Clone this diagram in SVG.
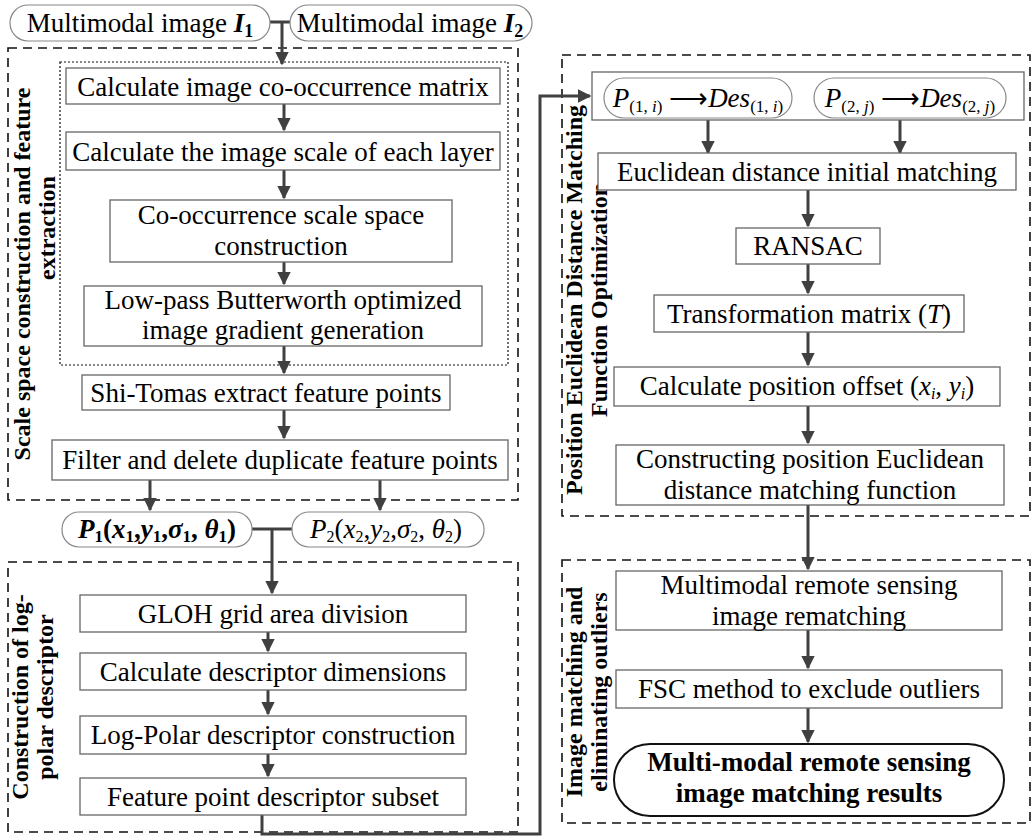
<svg xmlns="http://www.w3.org/2000/svg" width="1035" height="839" viewBox="0 0 1035 839">
<style>
text{font-family:"Liberation Serif","Times New Roman",serif;font-size:27px;fill:#000;text-anchor:middle}
.b{fill:#fff;stroke:#666;stroke-width:1.3}
.p{fill:#fff;stroke:#888;stroke-width:1.2}
.d{fill:none;stroke:#111;stroke-width:1.6;stroke-dasharray:9 6}
.dt{fill:none;stroke:#111;stroke-width:1.2;stroke-dasharray:2 2}
.c{fill:none;stroke:#404040;stroke-width:3}
.a{fill:none;stroke:#404040;stroke-width:3;marker-end:url(#ah)}
.v{font-weight:bold;font-size:24px}
.i{font-style:italic}
</style>
<defs><marker id="ah" viewBox="0 0 10 10" refX="9" refY="5" markerWidth="4.5" markerHeight="4.5" orient="auto" markerUnits="strokeWidth"><path d="M0,0L10,5L0,10z" fill="#404040"/></marker></defs>
<rect width="1035" height="839" fill="#fff"/>
<g id="groups">
<rect class="d" x="8" y="48" width="510" height="452"/>
<rect class="dt" x="60" y="62" width="448" height="303"/>
<rect class="d" x="8" y="562" width="510" height="270"/>
<rect class="d" x="562" y="55" width="468" height="461"/>
<rect class="d" x="562" y="560" width="468" height="263"/>
<text class="v" transform="translate(30,274) rotate(-90)">Scale space construction and feature</text>
<text class="v" transform="translate(55,228) rotate(-90)">extraction</text>
<text class="v" transform="translate(28,697) rotate(-90)">Construction of log-</text>
<text class="v" transform="translate(53,697) rotate(-90)">polar descriptor</text>
<text class="v" transform="translate(582,300) rotate(-90)">Position Euclidean Distance Matching</text>
<text class="v" transform="translate(607,300) rotate(-90)">Function Optimization</text>
<text class="v" transform="translate(582,692) rotate(-90)">Image matching and</text>
<text class="v" transform="translate(607,692) rotate(-90)">eliminating outliers</text>
</g>
<g id="connectors">
<path class="c" d="M270,22H290"/>
<path class="a" d="M282,22V64"/>
<path class="a" d="M284,104V130"/>
<path class="a" d="M284,170V198"/>
<path class="a" d="M284,262V284"/>
<path class="a" d="M284,346V373"/>
<path class="a" d="M284,410V438"/>
<path class="a" d="M150,480V510"/>
<path class="a" d="M380,480V510"/>
<path class="c" d="M252,529H292"/>
<path class="a" d="M272,529V593"/>
<path class="a" d="M268,632V651"/>
<path class="a" d="M268,690V714"/>
<path class="a" d="M268,754V776"/>
<path class="a" d="M262,815V834H540V96H590"/>
<path class="a" d="M708,120V153"/>
<path class="a" d="M900,120V153"/>
<path class="a" d="M808,190V226"/>
<path class="a" d="M808,264V293"/>
<path class="a" d="M808,332V365"/>
<path class="a" d="M808,406V443"/>
<path class="a" d="M808,505V569"/>
<path class="a" d="M808,630V668"/>
<path class="a" d="M808,708V742"/>
</g>
<g id="n1"><rect class="p" x="10" y="5" width="260" height="36" rx="18"/><text x="140" y="32">Multimodal image <tspan class="i" font-weight="bold">I</tspan><tspan font-weight="bold" font-size="18" dy="5">1</tspan></text></g>
<g id="n2"><rect class="p" x="290" y="5" width="242" height="36" rx="18"/><text x="410" y="32">Multimodal image <tspan class="i" font-weight="bold">I</tspan><tspan font-weight="bold" font-size="18" dy="5">2</tspan></text></g>
<g id="n3"><rect class="b" x="66" y="68" width="434" height="36"/><text x="283" y="96">Calculate image co-occurrence matrix</text></g>
<g id="n4"><rect class="b" x="66" y="132" width="434" height="38"/><text x="283" y="161">Calculate the image scale of each layer</text></g>
<g id="n5"><rect class="b" x="110" y="200" width="342" height="62"/><text x="281" y="224">Co-occurrence scale space</text><text x="281" y="255">construction</text></g>
<g id="n6"><rect class="b" x="84" y="286" width="398" height="60"/><text x="283" y="309">Low-pass Butterworth optimized</text><text x="283" y="339">image gradient generation</text></g>
<g id="n7"><rect class="b" x="82" y="375" width="368" height="35"/><text x="266" y="402">Shi-Tomas extract feature points</text></g>
<g id="n8"><rect class="b" x="52" y="440" width="456" height="40"/><text x="280" y="469">Filter and delete duplicate feature points</text></g>
<g id="n9"><rect class="p" x="62" y="512" width="190" height="35" rx="17"/><text x="157" y="538" font-weight="bold" class="i" font-size="25">P<tspan font-size="17" dy="4" font-style="normal">1</tspan><tspan dy="-4" font-style="normal">(</tspan>x<tspan font-size="17" dy="4" font-style="normal">1</tspan><tspan dy="-4" font-style="normal">,</tspan>y<tspan font-size="17" dy="4" font-style="normal">1</tspan><tspan dy="-4" font-style="normal">,</tspan>σ<tspan font-size="17" dy="4" font-style="normal">1</tspan><tspan dy="-4" font-style="normal">, </tspan>θ<tspan font-size="17" dy="4" font-style="normal">1</tspan><tspan dy="-4" font-style="normal">)</tspan></text></g>
<g id="n10"><rect class="p" x="292" y="512" width="192" height="35" rx="17"/><text x="386" y="538" class="i" font-size="24">P<tspan font-size="16" dy="4" font-style="normal">2</tspan><tspan dy="-4" font-style="normal">(</tspan>x<tspan font-size="16" dy="4" font-style="normal">2</tspan><tspan dy="-4" font-style="normal">,</tspan>y<tspan font-size="16" dy="4" font-style="normal">2</tspan><tspan dy="-4" font-style="normal">,</tspan>σ<tspan font-size="16" dy="4" font-style="normal">2</tspan><tspan dy="-4" font-style="normal">, </tspan>θ<tspan font-size="16" dy="4" font-style="normal">2</tspan><tspan dy="-4" font-style="normal">)</tspan></text></g>
<g id="n11"><rect class="b" x="80" y="595" width="386" height="37"/><text x="273" y="623">GLOH grid area division</text></g>
<g id="n12"><rect class="b" x="80" y="653" width="386" height="37"/><text x="273" y="681">Calculate descriptor dimensions</text></g>
<g id="n13"><rect class="b" x="80" y="716" width="386" height="38"/><text x="273" y="744">Log-Polar descriptor construction</text></g>
<g id="n14"><rect class="b" x="80" y="778" width="386" height="37"/><text x="273" y="806">Feature point descriptor subset</text></g>
<g id="n15"><rect class="b" x="592" y="72" width="432" height="48"/>
<rect class="p" x="604" y="78" width="188" height="40" rx="20"/><rect class="p" x="814" y="78" width="192" height="40" rx="20"/>
<text x="698" y="107" class="i" font-size="27">P<tspan font-size="17" dy="5" font-style="normal">(1, </tspan><tspan font-size="17">i</tspan><tspan font-size="17" font-style="normal">)</tspan><tspan dy="-5" font-style="normal"> ⟶</tspan>Des<tspan font-size="17" dy="5" font-style="normal">(1, </tspan><tspan font-size="17">i</tspan><tspan font-size="17" font-style="normal">)</tspan></text>
<text x="910" y="107" class="i" font-size="27">P<tspan font-size="17" dy="5" font-style="normal">(2, </tspan><tspan font-size="17">j</tspan><tspan font-size="17" font-style="normal">)</tspan><tspan dy="-5" font-style="normal"> ⟶</tspan>Des<tspan font-size="17" dy="5" font-style="normal">(2, </tspan><tspan font-size="17">j</tspan><tspan font-size="17" font-style="normal">)</tspan></text></g>
<g id="n16"><rect class="b" x="598" y="153" width="418" height="37"/><text x="807" y="181">Euclidean distance initial matching</text></g>
<g id="n17"><rect class="b" x="736" y="228" width="144" height="36"/><text x="808" y="255">RANSAC</text></g>
<g id="n18"><rect class="b" x="654" y="295" width="310" height="37"/><text x="809" y="323">Transformation matrix (<tspan class="i">T</tspan>)</text></g>
<g id="n19"><rect class="b" x="614" y="367" width="386" height="39"/><text x="807" y="395">Calculate position offset (<tspan class="i">x<tspan font-size="16" dy="4">i</tspan><tspan dy="-4" font-style="normal">, </tspan>y<tspan font-size="16" dy="4">i</tspan></tspan><tspan dy="-4">)</tspan></text></g>
<g id="n20"><rect class="b" x="616" y="445" width="388" height="60"/><text x="810" y="468">Constructing position Euclidean</text><text x="810" y="499">distance matching function</text></g>
<g id="n21"><rect class="b" x="616" y="571" width="386" height="59"/><text x="809" y="594">Multimodal remote sensing</text><text x="809" y="625">image rematching</text></g>
<g id="n22"><rect class="b" x="616" y="670" width="386" height="38"/><text x="809" y="698">FSC method to exclude outliers</text></g>
<g id="n23"><rect x="614" y="744" width="390" height="72" rx="36" fill="#fff" stroke="#111" stroke-width="2"/><text x="809" y="771" font-weight="bold">Multi-modal remote sensing</text><text x="809" y="802" font-weight="bold">image matching results</text></g>
</svg>
